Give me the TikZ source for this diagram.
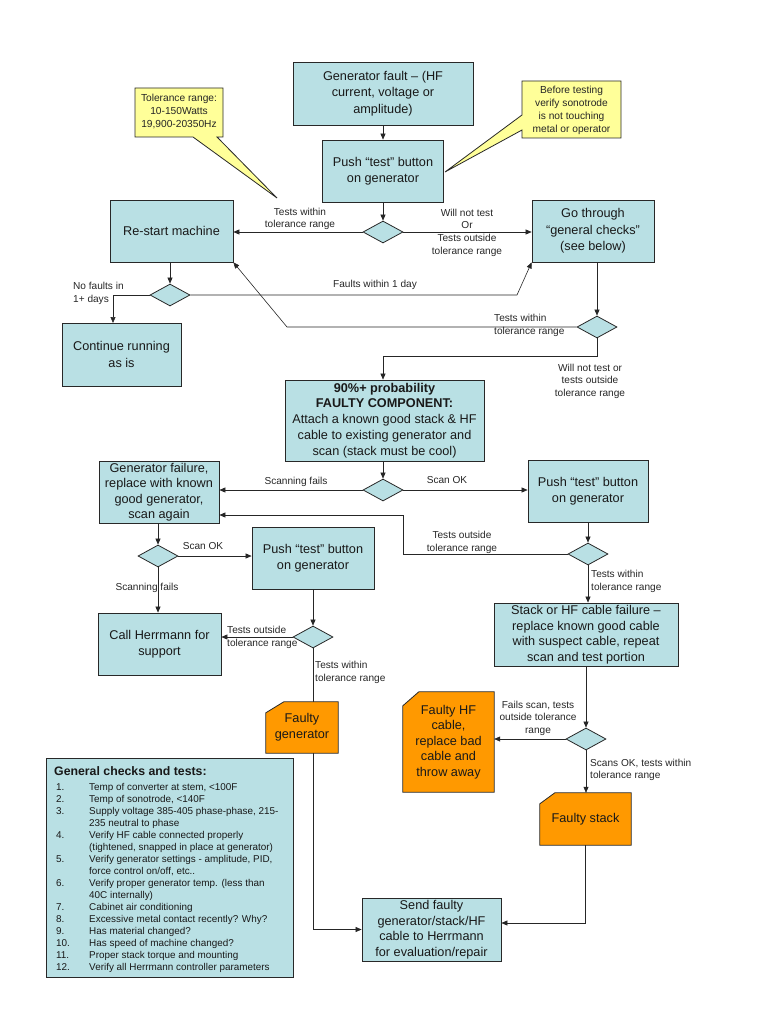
\documentclass[tikz,border=0pt]{standalone}
\usepackage{fontspec}
\setmainfont{Liberation Sans}
\usetikzlibrary{shapes.geometric,arrows.meta,backgrounds}
\definecolor{boxblue}{RGB}{185,224,228}
\definecolor{boxorange}{RGB}{255,153,0}
\definecolor{callyellow}{RGB}{255,255,153}
\definecolor{edgegray}{RGB}{40,40,40}
\newcommand\mainf{\fontsize{12.7}{16.3}\selectfont}
\newcommand\tightf{\fontsize{12.7}{15.5}\selectfont}
\newcommand\lblf{\fontsize{10.1}{12.6}\selectfont}
\newcommand\callf{\fontsize{10.2}{13}\selectfont}
\newcommand\listf{\fontsize{9.9}{12}\selectfont}
\newcommand\itm[2]{\makebox[33pt][l]{#1}#2}
\begin{document}
\begin{tikzpicture}[x=1pt,y=-1pt,
  box/.style={draw=edgegray, fill=boxblue, line width=0.8pt, align=center, font=\mainf, inner sep=0pt, text=black!90},
  otext/.style={draw=none, align=center, font=\mainf, inner sep=0pt, text=black!90},
  ofill/.style={draw=edgegray, fill=boxorange, line width=0.8pt},
  dec/.style={diamond, draw=edgegray, fill=boxblue, line width=0.8pt, inner sep=0pt, minimum width=40pt, minimum height=22pt},
  lbl/.style={font=\lblf, align=center, inner sep=0pt, text=black!85},
  lbll/.style={font=\lblf, align=left, inner sep=0pt, text=black!85},
  calltext/.style={font=\callf, align=center, inner sep=0pt, text=black!85},
  callshape/.style={draw=edgegray, fill=callyellow, line width=0.8pt, line join=miter},
  arr/.style={-{Triangle[length=6pt,width=5pt]}, line width=0.6pt, draw=black!85},
  ln/.style={line width=0.6pt, draw=black!85}
]
\useasboundingbox (0,0) rectangle (768,1024);

% ---------- main boxes ----------
\node[box, minimum width=180pt, minimum height=63pt] (gf) at (383,93.5) {Generator fault – (HF\\current, voltage or\\amplitude)};
\node[box, minimum width=121pt, minimum height=62pt] (pt1) at (383,171) {Push “test” button\\on generator};
\node[box, minimum width=123pt, minimum height=62pt] (rs) at (171.5,231) {Re-start machine};
\node[box, minimum width=122pt, minimum height=62pt] (gc) at (593,231) {Go through\\“general checks”\\(see below)};
\node[box, minimum width=119pt, minimum height=63pt] (cr) at (121.5,354.5) {Continue running\\as is};
\node[box, minimum width=199pt, minimum height=81pt, font=\fontsize{12.7}{15.8}\selectfont] (fc) at (384.5,420.5) {\textbf{90\%+ probability}\\\textbf{FAULTY COMPONENT:}\\Attach a known good stack \& HF\\cable to existing generator and\\scan (stack must be cool)};
\node[box, minimum width=120pt, minimum height=62pt, font=\tightf] (gfail) at (159,492) {Generator failure,\\replace with known\\good generator,\\scan again};
\node[box, minimum width=120pt, minimum height=62pt] (pt2) at (588,491) {Push “test” button\\on generator};
\node[box, minimum width=122pt, minimum height=62pt] (pt3) at (313,558) {Push “test” button\\on generator};
\node[box, minimum width=123pt, minimum height=62pt] (ch) at (159.5,644) {Call Herrmann for\\support};
\node[box, minimum width=184pt, minimum height=63pt, font=\tightf] (sh) at (586,634.5) {Stack or HF cable failure –\\replace known good cable\\with suspect cable, repeat\\scan and test portion};
\node[box, minimum width=139pt, minimum height=63pt, font=\tightf] (sf) at (431.5,929.5) {Send faulty\\generator/stack/HF\\cable to Herrmann\\for evaluation/repair};

% orange boxes (text; outlines on background layer)
\node[otext, minimum width=72pt, minimum height=51pt] (fg) at (302,727.5) {Faulty\\generator};
\node[otext, minimum width=91pt, minimum height=100pt, font=\tightf] (fhf) at (448.5,742) {Faulty HF\\cable,\\replace bad\\cable and\\throw away};
\node[otext, minimum width=91pt, minimum height=52pt] (fs) at (585.5,819) {Faulty stack};

% ---------- decisions ----------
\node[dec] (d1) at (383,232) {};
\node[dec] (d2) at (170,295) {};
\node[dec] (d3) at (597,327) {};
\node[dec] (d4) at (383,490) {};
\node[dec] (d5) at (588,554) {};
\node[dec] (d6) at (158,556) {};
\node[dec] (d7) at (313,637) {};
\node[dec] (d8) at (586,739) {};

% ---------- callouts ----------
\path[callshape] (135,88) -- (223,88) -- (223,137) -- (217,137) -- (277,198) -- (193,137) -- (135,137) -- cycle;
\node[calltext] (tol) at (179,111) {Tolerance range:\\10-150Watts\\19,900-20350Hz};
\path[callshape] (522,81) -- (621,81) -- (621,138) -- (522,138) -- (522,130) -- (445,172) -- (522,115) -- cycle;
\node[calltext] (bt) at (571.5,110) {Before testing\\verify sonotrode\\is not touching\\metal or operator};

% ---------- general checks ----------
\node[draw=edgegray, fill=boxblue, line width=0.8pt, minimum width=247pt, minimum height=219pt, inner sep=0pt] (gcb) at (169.5,867.5) {};
\node[anchor=base west, inner sep=0pt, font=\fontsize{12.3}{14}\selectfont\bfseries, text=black!90] (gct) at (54,775) {General checks and tests:};
\node[anchor=north west, inner sep=0pt, align=left, font=\listf, text=black!90] (gcl) at (56,783.3) {%
\itm{1.}{Temp of converter at stem, <100F}\\
\itm{2.}{Temp of sonotrode, <140F}\\
\itm{3.}{Supply voltage 385-405 phase-phase, 215-}\\
\itm{}{235 neutral to phase}\\
\itm{4.}{Verify HF cable connected properly}\\
\itm{}{(tightened, snapped in place at generator)}\\
\itm{5.}{Verify generator settings - amplitude, PID,}\\
\itm{}{force control on/off, etc..}\\
\itm{6.}{Verify proper generator temp. (less than}\\
\itm{}{40C internally)}\\
\itm{7.}{Cabinet air conditioning}\\
\itm{8.}{Excessive metal contact recently? Why?}\\
\itm{9.}{Has material changed?}\\
\itm{10.}{Has speed of machine changed?}\\
\itm{11.}{Proper stack torque and mounting}\\
\itm{12.}{Verify all Herrmann controller parameters}};

% ---------- connectors ----------
\draw[arr] (gf) -- (pt1);
\draw[arr] (pt1) -- (d1);
\draw[arr] (d1.west) -- (rs.east |- d1.west);
\draw[arr] (d1.east) -- (gc.west |- d1.east);
\draw[arr] (rs.south -| d2.north) -- (d2.north);
\coordinate (c2) at (517,295);
\draw[arr] (d2.east) -- (c2) -- (gc.south west);
\coordinate (c2l) at (113,323);
\draw[arr] (d2.west) -| (c2l);
\draw[arr] (gc.south -| d3.north) -- (d3.north);
\coordinate (c3) at (287,327);
\draw[arr] (d3.west) -- (c3) -- (rs.south east);
\coordinate (c3b) at (383,356);
\draw[arr] (d3.south) |- (c3b) -- (c3b |- fc.north);
\draw[arr] (fc.south -| d4.north) -- (d4.north);
\draw[arr] (d4.west) -- (gfail.east |- d4.west);
\draw[arr] (d4.east) -- (pt2.west |- d4.east);
\draw[arr] (pt2.south -| d5.north) -- (d5.north);
\coordinate (c5) at (403,515);
\draw[arr] (d5.west) -| (c5) -- (c5 -| gfail.east);
\draw[arr] (d5.south) -- (d5.south |- sh.north);
\draw[arr] (gfail.south -| d6.north) -- (d6.north);
\draw[arr] (d6.east) -- (pt3.west |- d6.east);
\draw[arr] (d6.south) -- (d6.south |- ch.north);
\draw[arr] (pt3.south) -- (d7.north);
\draw[arr] (d7.west) -- (ch.east |- d7.west);
\draw[arr] (sh.south -| d8.north) -- (d8.north);
\draw[arr] (d8.west) -- (fhf.east |- d8.west);
\draw[arr] (d8.south) -- (d8.south |- fs.north);
\draw[arr] (fs.south) |- ([yshift=6.5pt]sf.east);

\begin{pgfonlayer}{background}
\draw[arr] (d7.south) |- (sf.west);
\path[ofill] (fg.south west) -- ([yshift=-11pt]fg.north west) -- ([xshift=18pt]fg.north west) -- (fg.north east) -- (fg.south east) -- cycle;
\path[ofill] (fhf.south west) -- ([yshift=-14pt]fhf.north west) -- ([xshift=16pt]fhf.north west) -- (fhf.north east) -- (fhf.south east) -- cycle;
\path[ofill] (fs.south west) -- ([yshift=-11pt]fs.north west) -- ([xshift=15pt]fs.north west) -- (fs.north east) -- (fs.south east) -- cycle;
\end{pgfonlayer}

% ---------- labels ----------
\node[lbl] (l1) at (300,219) {Tests within\\tolerance range};
\node[lbl] (l2) at (467,232.5) {Will not test\\Or\\Tests outside\\tolerance range};
\node[lbl] (l3) at (375,285) {Faults within 1 day};
\node[lbll, anchor=west] (l4) at (73,293.5) {No faults in\\1+ days};
\node[lbll, anchor=west] (l5) at (494,325.5) {Tests within\\tolerance range};
\node[lbl] (l6) at (590,381) {Will not test or\\tests outside\\tolerance range};
\node[lbl] (l7) at (296,482) {Scanning fails};
\node[lbl] (l8) at (447,480) {Scan OK};
\node[lbl] (l9) at (462,542.5) {Tests outside\\tolerance range};
\node[lbll, anchor=west] (l10) at (591,581.5) {Tests within\\tolerance range};
\node[lbl] (l11) at (203,546.5) {Scan OK};
\node[lbl] (l12) at (147,588) {Scanning fails};
\node[lbll, anchor=west] (l13) at (227,637.5) {Tests outside\\tolerance range};
\node[lbll, anchor=west] (l14) at (315,672.5) {Tests within\\tolerance range};
\node[lbl] (l15) at (538,718) {Fails scan, tests\\outside tolerance\\range};
\node[lbll, anchor=west] (l16) at (590,770) {Scans OK, tests within\\tolerance range};
\end{tikzpicture}
\end{document}
